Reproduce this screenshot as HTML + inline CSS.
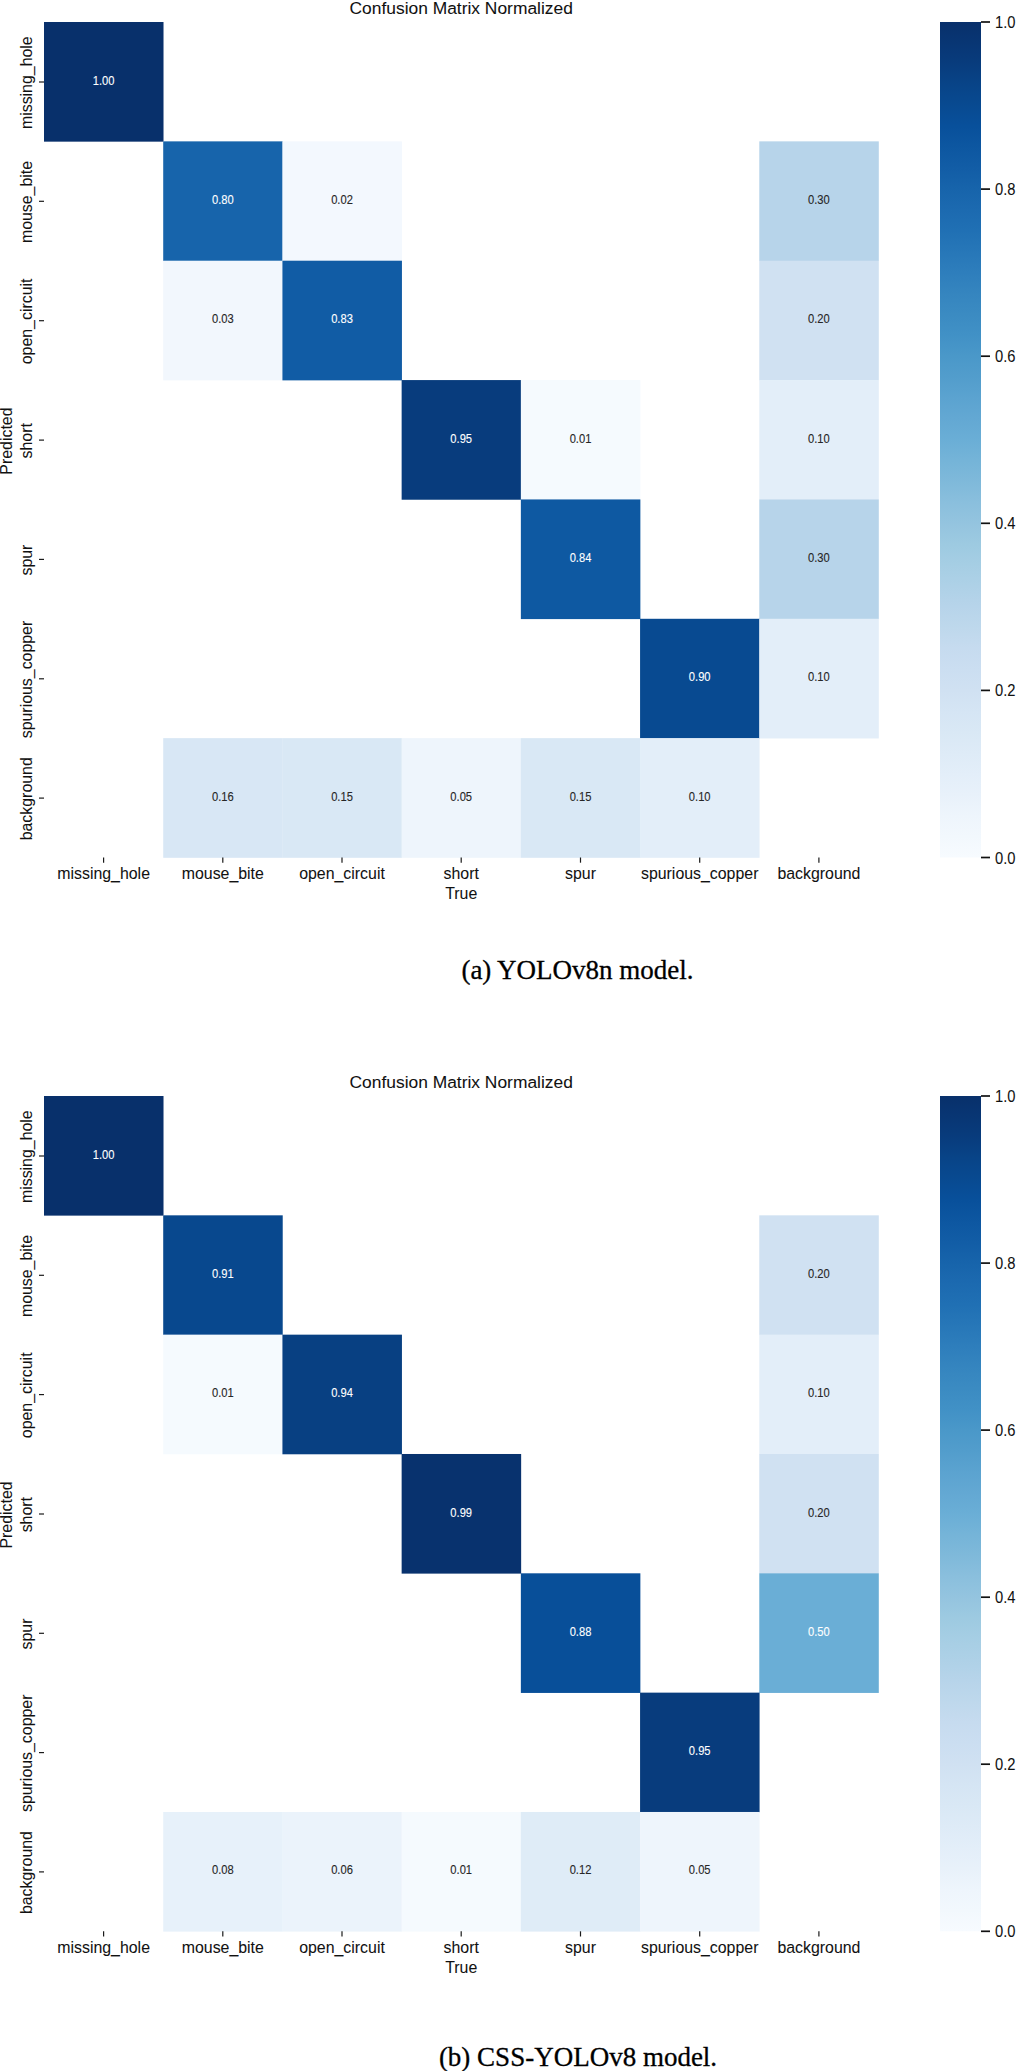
<!DOCTYPE html>
<html><head><meta charset="utf-8"><title>Confusion Matrix</title>
<style>html,body{margin:0;padding:0;background:#fff;width:1017px;height:2071px;overflow:hidden}svg{display:block}.k{fill:#111;stroke:#111;stroke-width:0.05px}text{font-family:"Liberation Sans",sans-serif}</style>
</head><body>
<svg width="1017" height="2071" viewBox="0 0 1017 2071" font-family="Liberation Sans, sans-serif">
<defs><linearGradient id="g" x1="0" y1="0" x2="0" y2="1"><stop offset="0.0000" stop-color="#08306b"/><stop offset="0.0250" stop-color="#083674"/><stop offset="0.0500" stop-color="#083c7d"/><stop offset="0.0750" stop-color="#084488"/><stop offset="0.1000" stop-color="#084a91"/><stop offset="0.1250" stop-color="#08509b"/><stop offset="0.1500" stop-color="#0d57a1"/><stop offset="0.1750" stop-color="#125da6"/><stop offset="0.2000" stop-color="#1764ab"/><stop offset="0.2250" stop-color="#1c6ab0"/><stop offset="0.2500" stop-color="#2070b4"/><stop offset="0.2750" stop-color="#2777b8"/><stop offset="0.3000" stop-color="#2e7ebc"/><stop offset="0.3250" stop-color="#3585bf"/><stop offset="0.3500" stop-color="#3b8bc2"/><stop offset="0.3750" stop-color="#4191c6"/><stop offset="0.4000" stop-color="#4a98c9"/><stop offset="0.4250" stop-color="#529dcc"/><stop offset="0.4500" stop-color="#5ba3d0"/><stop offset="0.4750" stop-color="#63a8d3"/><stop offset="0.5000" stop-color="#6aaed6"/><stop offset="0.5250" stop-color="#75b4d8"/><stop offset="0.5500" stop-color="#7fb9da"/><stop offset="0.5750" stop-color="#8abfdd"/><stop offset="0.6000" stop-color="#94c4df"/><stop offset="0.6250" stop-color="#9dcae1"/><stop offset="0.6500" stop-color="#a6cee4"/><stop offset="0.6750" stop-color="#aed1e7"/><stop offset="0.7000" stop-color="#b7d4ea"/><stop offset="0.7250" stop-color="#bed8ec"/><stop offset="0.7500" stop-color="#c6dbef"/><stop offset="0.7750" stop-color="#cbdef1"/><stop offset="0.8000" stop-color="#d0e1f2"/><stop offset="0.8250" stop-color="#d5e5f4"/><stop offset="0.8500" stop-color="#d9e8f5"/><stop offset="0.8750" stop-color="#deebf7"/><stop offset="0.9000" stop-color="#e3eef9"/><stop offset="0.9250" stop-color="#e8f1fa"/><stop offset="0.9500" stop-color="#eef5fc"/><stop offset="0.9750" stop-color="#f2f8fd"/><stop offset="1.0000" stop-color="#f7fbff"/></linearGradient></defs>
<rect width="1017" height="2071" fill="#fff"/>
<text x="461.2" y="13.5" font-size="17.4" text-anchor="middle" class="k">Confusion Matrix Normalized</text>
<rect x="44.00" y="22.00" width="119.51" height="119.66" fill="#08306b"/>
<rect x="163.21" y="141.36" width="119.51" height="119.66" fill="#1764ab"/>
<rect x="282.43" y="141.36" width="119.51" height="119.66" fill="#f3f8fe"/>
<rect x="759.29" y="141.36" width="119.51" height="119.66" fill="#b7d4ea"/>
<rect x="163.21" y="260.71" width="119.51" height="119.66" fill="#f2f7fd"/>
<rect x="282.43" y="260.71" width="119.51" height="119.66" fill="#115ca5"/>
<rect x="759.29" y="260.71" width="119.51" height="119.66" fill="#d0e1f2"/>
<rect x="401.64" y="380.07" width="119.51" height="119.66" fill="#083c7d"/>
<rect x="520.86" y="380.07" width="119.51" height="119.66" fill="#f5fafe"/>
<rect x="759.29" y="380.07" width="119.51" height="119.66" fill="#e3eef9"/>
<rect x="520.86" y="499.43" width="119.51" height="119.66" fill="#0e59a2"/>
<rect x="759.29" y="499.43" width="119.51" height="119.66" fill="#b7d4ea"/>
<rect x="640.07" y="618.79" width="119.51" height="119.66" fill="#084a91"/>
<rect x="759.29" y="618.79" width="119.51" height="119.66" fill="#e3eef9"/>
<rect x="163.21" y="738.14" width="119.51" height="119.66" fill="#d8e7f5"/>
<rect x="282.43" y="738.14" width="119.51" height="119.66" fill="#d9e8f5"/>
<rect x="401.64" y="738.14" width="119.51" height="119.66" fill="#eef5fc"/>
<rect x="520.86" y="738.14" width="119.51" height="119.66" fill="#d9e8f5"/>
<rect x="640.07" y="738.14" width="119.51" height="119.66" fill="#e3eef9"/>
<text transform="translate(103.6,84.5) scale(0.98,1.07)" font-size="11.4" text-anchor="middle" fill="#ffffff" stroke="#ffffff" stroke-width="0.1">1.00</text>
<text transform="translate(222.8,203.8) scale(0.98,1.07)" font-size="11.4" text-anchor="middle" fill="#ffffff" stroke="#ffffff" stroke-width="0.1">0.80</text>
<text transform="translate(342.0,203.8) scale(0.98,1.07)" font-size="11.4" text-anchor="middle" fill="#262626" stroke="#262626" stroke-width="0.1">0.02</text>
<text transform="translate(818.9,203.8) scale(0.98,1.07)" font-size="11.4" text-anchor="middle" fill="#262626" stroke="#262626" stroke-width="0.1">0.30</text>
<text transform="translate(222.8,323.2) scale(0.98,1.07)" font-size="11.4" text-anchor="middle" fill="#262626" stroke="#262626" stroke-width="0.1">0.03</text>
<text transform="translate(342.0,323.2) scale(0.98,1.07)" font-size="11.4" text-anchor="middle" fill="#ffffff" stroke="#ffffff" stroke-width="0.1">0.83</text>
<text transform="translate(818.9,323.2) scale(0.98,1.07)" font-size="11.4" text-anchor="middle" fill="#262626" stroke="#262626" stroke-width="0.1">0.20</text>
<text transform="translate(461.2,442.6) scale(0.98,1.07)" font-size="11.4" text-anchor="middle" fill="#ffffff" stroke="#ffffff" stroke-width="0.1">0.95</text>
<text transform="translate(580.5,442.6) scale(0.98,1.07)" font-size="11.4" text-anchor="middle" fill="#262626" stroke="#262626" stroke-width="0.1">0.01</text>
<text transform="translate(818.9,442.6) scale(0.98,1.07)" font-size="11.4" text-anchor="middle" fill="#262626" stroke="#262626" stroke-width="0.1">0.10</text>
<text transform="translate(580.5,561.9) scale(0.98,1.07)" font-size="11.4" text-anchor="middle" fill="#ffffff" stroke="#ffffff" stroke-width="0.1">0.84</text>
<text transform="translate(818.9,561.9) scale(0.98,1.07)" font-size="11.4" text-anchor="middle" fill="#262626" stroke="#262626" stroke-width="0.1">0.30</text>
<text transform="translate(699.7,681.3) scale(0.98,1.07)" font-size="11.4" text-anchor="middle" fill="#ffffff" stroke="#ffffff" stroke-width="0.1">0.90</text>
<text transform="translate(818.9,681.3) scale(0.98,1.07)" font-size="11.4" text-anchor="middle" fill="#262626" stroke="#262626" stroke-width="0.1">0.10</text>
<text transform="translate(222.8,800.6) scale(0.98,1.07)" font-size="11.4" text-anchor="middle" fill="#262626" stroke="#262626" stroke-width="0.1">0.16</text>
<text transform="translate(342.0,800.6) scale(0.98,1.07)" font-size="11.4" text-anchor="middle" fill="#262626" stroke="#262626" stroke-width="0.1">0.15</text>
<text transform="translate(461.2,800.6) scale(0.98,1.07)" font-size="11.4" text-anchor="middle" fill="#262626" stroke="#262626" stroke-width="0.1">0.05</text>
<text transform="translate(580.5,800.6) scale(0.98,1.07)" font-size="11.4" text-anchor="middle" fill="#262626" stroke="#262626" stroke-width="0.1">0.15</text>
<text transform="translate(699.7,800.6) scale(0.98,1.07)" font-size="11.4" text-anchor="middle" fill="#262626" stroke="#262626" stroke-width="0.1">0.10</text>
<line x1="103.6" y1="857.5" x2="103.6" y2="862.7" stroke="#1a1a1a" stroke-width="1.2"/>
<text x="103.6" y="878.9" font-size="15.9" text-anchor="middle" class="k">missing_hole</text>
<line x1="222.8" y1="857.5" x2="222.8" y2="862.7" stroke="#1a1a1a" stroke-width="1.2"/>
<text x="222.8" y="878.9" font-size="15.9" text-anchor="middle" class="k">mouse_bite</text>
<line x1="342.0" y1="857.5" x2="342.0" y2="862.7" stroke="#1a1a1a" stroke-width="1.2"/>
<text x="342.0" y="878.9" font-size="15.9" text-anchor="middle" class="k">open_circuit</text>
<line x1="461.2" y1="857.5" x2="461.2" y2="862.7" stroke="#1a1a1a" stroke-width="1.2"/>
<text x="461.2" y="878.9" font-size="15.9" text-anchor="middle" class="k">short</text>
<line x1="580.5" y1="857.5" x2="580.5" y2="862.7" stroke="#1a1a1a" stroke-width="1.2"/>
<text x="580.5" y="878.9" font-size="15.9" text-anchor="middle" class="k">spur</text>
<line x1="699.7" y1="857.5" x2="699.7" y2="862.7" stroke="#1a1a1a" stroke-width="1.2"/>
<text x="699.7" y="878.9" font-size="15.9" text-anchor="middle" class="k">spurious_copper</text>
<line x1="818.9" y1="857.5" x2="818.9" y2="862.7" stroke="#1a1a1a" stroke-width="1.2"/>
<text x="818.9" y="878.9" font-size="15.9" text-anchor="middle" class="k">background</text>
<line x1="39.0" y1="82.0" x2="44.0" y2="82.0" stroke="#1a1a1a" stroke-width="1.2"/>
<text transform="translate(31.5,82.7) rotate(-90)" x="0" y="0" font-size="15.9" text-anchor="middle" class="k">missing_hole</text>
<line x1="39.0" y1="201.3" x2="44.0" y2="201.3" stroke="#1a1a1a" stroke-width="1.2"/>
<text transform="translate(31.5,202.0) rotate(-90)" x="0" y="0" font-size="15.9" text-anchor="middle" class="k">mouse_bite</text>
<line x1="39.0" y1="320.7" x2="44.0" y2="320.7" stroke="#1a1a1a" stroke-width="1.2"/>
<text transform="translate(31.5,321.4) rotate(-90)" x="0" y="0" font-size="15.9" text-anchor="middle" class="k">open_circuit</text>
<line x1="39.0" y1="440.1" x2="44.0" y2="440.1" stroke="#1a1a1a" stroke-width="1.2"/>
<text transform="translate(31.5,440.8) rotate(-90)" x="0" y="0" font-size="15.9" text-anchor="middle" class="k">short</text>
<line x1="39.0" y1="559.4" x2="44.0" y2="559.4" stroke="#1a1a1a" stroke-width="1.2"/>
<text transform="translate(31.5,560.1) rotate(-90)" x="0" y="0" font-size="15.9" text-anchor="middle" class="k">spur</text>
<line x1="39.0" y1="678.8" x2="44.0" y2="678.8" stroke="#1a1a1a" stroke-width="1.2"/>
<text transform="translate(31.5,679.5) rotate(-90)" x="0" y="0" font-size="15.9" text-anchor="middle" class="k">spurious_copper</text>
<line x1="39.0" y1="798.1" x2="44.0" y2="798.1" stroke="#1a1a1a" stroke-width="1.2"/>
<text transform="translate(31.5,798.8) rotate(-90)" x="0" y="0" font-size="15.9" text-anchor="middle" class="k">background</text>
<text x="461.2" y="898.8" font-size="15.9" text-anchor="middle" class="k">True</text>
<text transform="translate(12.2,441.1) rotate(-90)" font-size="15.9" text-anchor="middle" class="k">Predicted</text>
<rect x="940.0" y="22.00" width="41.0" height="835.50" fill="url(#g)"/>
<line x1="981.0" y1="857.5" x2="990.0" y2="857.5" stroke="#111" stroke-width="1.7"/>
<text transform="translate(995,863.5) scale(0.97,1.07)" font-size="15.2" class="k">0.0</text>
<line x1="981.0" y1="690.4" x2="990.0" y2="690.4" stroke="#111" stroke-width="1.7"/>
<text transform="translate(995,696.4) scale(0.97,1.07)" font-size="15.2" class="k">0.2</text>
<line x1="981.0" y1="523.3" x2="990.0" y2="523.3" stroke="#111" stroke-width="1.7"/>
<text transform="translate(995,529.3) scale(0.97,1.07)" font-size="15.2" class="k">0.4</text>
<line x1="981.0" y1="356.2" x2="990.0" y2="356.2" stroke="#111" stroke-width="1.7"/>
<text transform="translate(995,362.2) scale(0.97,1.07)" font-size="15.2" class="k">0.6</text>
<line x1="981.0" y1="189.1" x2="990.0" y2="189.1" stroke="#111" stroke-width="1.7"/>
<text transform="translate(995,195.1) scale(0.97,1.07)" font-size="15.2" class="k">0.8</text>
<line x1="981.0" y1="22.0" x2="990.0" y2="22.0" stroke="#111" stroke-width="1.7"/>
<text transform="translate(995,28.0) scale(0.97,1.07)" font-size="15.2" class="k">1.0</text>
<text x="461.2" y="1087.5" font-size="17.4" text-anchor="middle" class="k">Confusion Matrix Normalized</text>
<rect x="44.00" y="1096.00" width="119.51" height="119.63" fill="#08306b"/>
<rect x="163.21" y="1215.33" width="119.51" height="119.63" fill="#08488e"/>
<rect x="759.29" y="1215.33" width="119.51" height="119.63" fill="#d0e1f2"/>
<rect x="163.21" y="1334.66" width="119.51" height="119.63" fill="#f5fafe"/>
<rect x="282.43" y="1334.66" width="119.51" height="119.63" fill="#084082"/>
<rect x="759.29" y="1334.66" width="119.51" height="119.63" fill="#e3eef9"/>
<rect x="401.64" y="1453.99" width="119.51" height="119.63" fill="#08326e"/>
<rect x="759.29" y="1453.99" width="119.51" height="119.63" fill="#d0e1f2"/>
<rect x="520.86" y="1573.31" width="119.51" height="119.63" fill="#084f99"/>
<rect x="759.29" y="1573.31" width="119.51" height="119.63" fill="#6aaed6"/>
<rect x="640.07" y="1692.64" width="119.51" height="119.63" fill="#083c7d"/>
<rect x="163.21" y="1811.97" width="119.51" height="119.63" fill="#e7f1fa"/>
<rect x="282.43" y="1811.97" width="119.51" height="119.63" fill="#ebf3fb"/>
<rect x="401.64" y="1811.97" width="119.51" height="119.63" fill="#f5fafe"/>
<rect x="520.86" y="1811.97" width="119.51" height="119.63" fill="#dfecf7"/>
<rect x="640.07" y="1811.97" width="119.51" height="119.63" fill="#eef5fc"/>
<text transform="translate(103.6,1158.5) scale(0.98,1.07)" font-size="11.4" text-anchor="middle" fill="#ffffff" stroke="#ffffff" stroke-width="0.1">1.00</text>
<text transform="translate(222.8,1277.8) scale(0.98,1.07)" font-size="11.4" text-anchor="middle" fill="#ffffff" stroke="#ffffff" stroke-width="0.1">0.91</text>
<text transform="translate(818.9,1277.8) scale(0.98,1.07)" font-size="11.4" text-anchor="middle" fill="#262626" stroke="#262626" stroke-width="0.1">0.20</text>
<text transform="translate(222.8,1397.1) scale(0.98,1.07)" font-size="11.4" text-anchor="middle" fill="#262626" stroke="#262626" stroke-width="0.1">0.01</text>
<text transform="translate(342.0,1397.1) scale(0.98,1.07)" font-size="11.4" text-anchor="middle" fill="#ffffff" stroke="#ffffff" stroke-width="0.1">0.94</text>
<text transform="translate(818.9,1397.1) scale(0.98,1.07)" font-size="11.4" text-anchor="middle" fill="#262626" stroke="#262626" stroke-width="0.1">0.10</text>
<text transform="translate(461.2,1516.5) scale(0.98,1.07)" font-size="11.4" text-anchor="middle" fill="#ffffff" stroke="#ffffff" stroke-width="0.1">0.99</text>
<text transform="translate(818.9,1516.5) scale(0.98,1.07)" font-size="11.4" text-anchor="middle" fill="#262626" stroke="#262626" stroke-width="0.1">0.20</text>
<text transform="translate(580.5,1635.8) scale(0.98,1.07)" font-size="11.4" text-anchor="middle" fill="#ffffff" stroke="#ffffff" stroke-width="0.1">0.88</text>
<text transform="translate(818.9,1635.8) scale(0.98,1.07)" font-size="11.4" text-anchor="middle" fill="#ffffff" stroke="#ffffff" stroke-width="0.1">0.50</text>
<text transform="translate(699.7,1755.1) scale(0.98,1.07)" font-size="11.4" text-anchor="middle" fill="#ffffff" stroke="#ffffff" stroke-width="0.1">0.95</text>
<text transform="translate(222.8,1874.4) scale(0.98,1.07)" font-size="11.4" text-anchor="middle" fill="#262626" stroke="#262626" stroke-width="0.1">0.08</text>
<text transform="translate(342.0,1874.4) scale(0.98,1.07)" font-size="11.4" text-anchor="middle" fill="#262626" stroke="#262626" stroke-width="0.1">0.06</text>
<text transform="translate(461.2,1874.4) scale(0.98,1.07)" font-size="11.4" text-anchor="middle" fill="#262626" stroke="#262626" stroke-width="0.1">0.01</text>
<text transform="translate(580.5,1874.4) scale(0.98,1.07)" font-size="11.4" text-anchor="middle" fill="#262626" stroke="#262626" stroke-width="0.1">0.12</text>
<text transform="translate(699.7,1874.4) scale(0.98,1.07)" font-size="11.4" text-anchor="middle" fill="#262626" stroke="#262626" stroke-width="0.1">0.05</text>
<line x1="103.6" y1="1931.3" x2="103.6" y2="1936.5" stroke="#1a1a1a" stroke-width="1.2"/>
<text x="103.6" y="1952.7" font-size="15.9" text-anchor="middle" class="k">missing_hole</text>
<line x1="222.8" y1="1931.3" x2="222.8" y2="1936.5" stroke="#1a1a1a" stroke-width="1.2"/>
<text x="222.8" y="1952.7" font-size="15.9" text-anchor="middle" class="k">mouse_bite</text>
<line x1="342.0" y1="1931.3" x2="342.0" y2="1936.5" stroke="#1a1a1a" stroke-width="1.2"/>
<text x="342.0" y="1952.7" font-size="15.9" text-anchor="middle" class="k">open_circuit</text>
<line x1="461.2" y1="1931.3" x2="461.2" y2="1936.5" stroke="#1a1a1a" stroke-width="1.2"/>
<text x="461.2" y="1952.7" font-size="15.9" text-anchor="middle" class="k">short</text>
<line x1="580.5" y1="1931.3" x2="580.5" y2="1936.5" stroke="#1a1a1a" stroke-width="1.2"/>
<text x="580.5" y="1952.7" font-size="15.9" text-anchor="middle" class="k">spur</text>
<line x1="699.7" y1="1931.3" x2="699.7" y2="1936.5" stroke="#1a1a1a" stroke-width="1.2"/>
<text x="699.7" y="1952.7" font-size="15.9" text-anchor="middle" class="k">spurious_copper</text>
<line x1="818.9" y1="1931.3" x2="818.9" y2="1936.5" stroke="#1a1a1a" stroke-width="1.2"/>
<text x="818.9" y="1952.7" font-size="15.9" text-anchor="middle" class="k">background</text>
<line x1="39.0" y1="1156.0" x2="44.0" y2="1156.0" stroke="#1a1a1a" stroke-width="1.2"/>
<text transform="translate(31.5,1156.7) rotate(-90)" x="0" y="0" font-size="15.9" text-anchor="middle" class="k">missing_hole</text>
<line x1="39.0" y1="1275.3" x2="44.0" y2="1275.3" stroke="#1a1a1a" stroke-width="1.2"/>
<text transform="translate(31.5,1276.0) rotate(-90)" x="0" y="0" font-size="15.9" text-anchor="middle" class="k">mouse_bite</text>
<line x1="39.0" y1="1394.6" x2="44.0" y2="1394.6" stroke="#1a1a1a" stroke-width="1.2"/>
<text transform="translate(31.5,1395.3) rotate(-90)" x="0" y="0" font-size="15.9" text-anchor="middle" class="k">open_circuit</text>
<line x1="39.0" y1="1514.0" x2="44.0" y2="1514.0" stroke="#1a1a1a" stroke-width="1.2"/>
<text transform="translate(31.5,1514.7) rotate(-90)" x="0" y="0" font-size="15.9" text-anchor="middle" class="k">short</text>
<line x1="39.0" y1="1633.3" x2="44.0" y2="1633.3" stroke="#1a1a1a" stroke-width="1.2"/>
<text transform="translate(31.5,1634.0) rotate(-90)" x="0" y="0" font-size="15.9" text-anchor="middle" class="k">spur</text>
<line x1="39.0" y1="1752.6" x2="44.0" y2="1752.6" stroke="#1a1a1a" stroke-width="1.2"/>
<text transform="translate(31.5,1753.3) rotate(-90)" x="0" y="0" font-size="15.9" text-anchor="middle" class="k">spurious_copper</text>
<line x1="39.0" y1="1871.9" x2="44.0" y2="1871.9" stroke="#1a1a1a" stroke-width="1.2"/>
<text transform="translate(31.5,1872.6) rotate(-90)" x="0" y="0" font-size="15.9" text-anchor="middle" class="k">background</text>
<text x="461.2" y="1972.6" font-size="15.9" text-anchor="middle" class="k">True</text>
<text transform="translate(12.2,1515.0) rotate(-90)" font-size="15.9" text-anchor="middle" class="k">Predicted</text>
<rect x="940.0" y="1096.00" width="41.0" height="835.30" fill="url(#g)"/>
<line x1="981.0" y1="1931.3" x2="990.0" y2="1931.3" stroke="#111" stroke-width="1.7"/>
<text transform="translate(995,1937.3) scale(0.97,1.07)" font-size="15.2" class="k">0.0</text>
<line x1="981.0" y1="1764.2" x2="990.0" y2="1764.2" stroke="#111" stroke-width="1.7"/>
<text transform="translate(995,1770.2) scale(0.97,1.07)" font-size="15.2" class="k">0.2</text>
<line x1="981.0" y1="1597.2" x2="990.0" y2="1597.2" stroke="#111" stroke-width="1.7"/>
<text transform="translate(995,1603.2) scale(0.97,1.07)" font-size="15.2" class="k">0.4</text>
<line x1="981.0" y1="1430.1" x2="990.0" y2="1430.1" stroke="#111" stroke-width="1.7"/>
<text transform="translate(995,1436.1) scale(0.97,1.07)" font-size="15.2" class="k">0.6</text>
<line x1="981.0" y1="1263.1" x2="990.0" y2="1263.1" stroke="#111" stroke-width="1.7"/>
<text transform="translate(995,1269.1) scale(0.97,1.07)" font-size="15.2" class="k">0.8</text>
<line x1="981.0" y1="1096.0" x2="990.0" y2="1096.0" stroke="#111" stroke-width="1.7"/>
<text transform="translate(995,1102.0) scale(0.97,1.07)" font-size="15.2" class="k">1.0</text>
<text x="577.5" y="978.7" style="font-family:'Liberation Serif',serif" stroke="#000" stroke-width="0.3" font-size="27" text-anchor="middle" fill="#000">(a) YOLOv8n model.</text>
<text x="578" y="2065.8" style="font-family:'Liberation Serif',serif" stroke="#000" stroke-width="0.3" font-size="27" text-anchor="middle" fill="#000">(b) CSS-YOLOv8 model.</text>
</svg>
</body></html>
